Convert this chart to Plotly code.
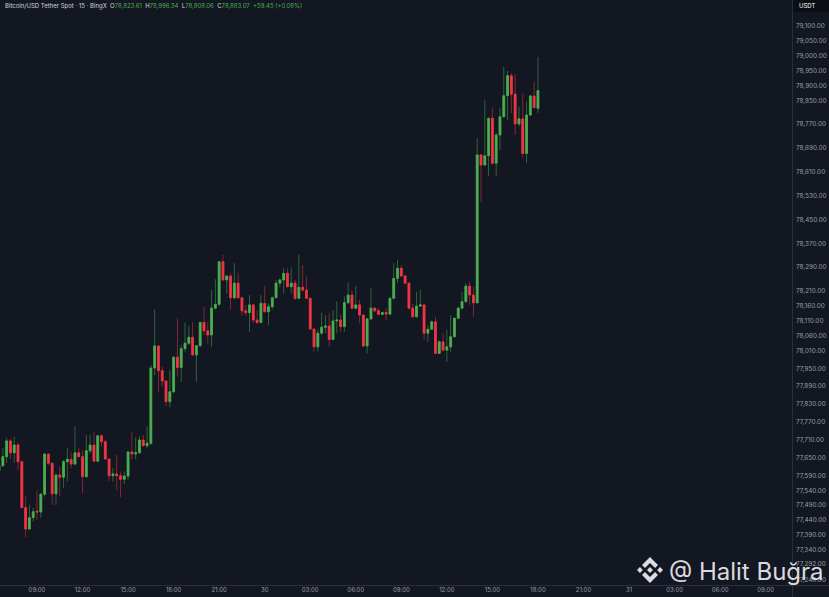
import numpy as np
import pandas as pd
import plotly.graph_objects as go

# ---------------------------------------------------------
# Data: BTC/USDT 15m candles
# ---------------------------------------------------------
start_time = "2026-01-29 06:30"

opens = [
    77606, 77623, 77653, 77706, 77666, 77692, 77636, 77482, 77410, 77448,
    77470, 77467, 77527, 77662, 77631, 77528, 77591, 77584, 77636, 77644,
    77628, 77666, 77653, 77586, 77673, 77692, 77638, 77723, 77703, 77645,
    77589, 77595, 77589, 77577, 77588, 77669, 77662, 77666, 77709, 77690,
    77698, 77951, 78025, 77942, 77907, 77838, 77871, 77987, 77953, 78016,
    78034, 78054, 77995, 78026, 78104, 78076, 78062, 78152, 78165, 78308,
    78247, 78260, 78187, 78236, 78187, 78143, 78137, 78163, 78112, 78104,
    78168, 78140, 78157, 78187, 78236, 78247, 78269, 78224, 78236, 78185,
    78222, 78213, 78185, 78082, 78022, 78068, 78088, 78092, 78047, 78109,
    78112, 78090, 78170, 78196, 78152, 78163, 78129, 78025, 78116, 78152,
    78143, 78131, 78137, 78132, 78185, 78252, 78286, 78260, 78236, 78152,
    78123, 78159, 78163, 78068, 78081, 78106, 78000, 78039, 78011, 78022,
    78056, 78118, 78152, 78174, 78226, 78196, 78170, 78667, 78633, 78664,
    78790, 78639, 78734, 78795, 78866, 78933, 78871, 78771, 78788, 78672,
    78801, 78865, 78823.61,
]
highs = [
    77632, 77682, 77716, 77712, 77719, 77699, 77638, 77519, 77491, 77481,
    77539, 77530, 77664, 77664, 77632, 77597, 77619, 77642, 77682, 77670,
    77754, 77682, 77675, 77726, 77726, 77735, 77726, 77729, 77709, 77648,
    77614, 77659, 77603, 77603, 77670, 77735, 77718, 77722, 77726, 77754,
    77961, 78148, 78027, 77955, 77911, 77944, 77989, 78118, 78028, 78103,
    78092, 78106, 78028, 78106, 78157, 78106, 78213, 78249, 78310, 78331,
    78263, 78269, 78303, 78271, 78189, 78163, 78196, 78168, 78146, 78196,
    78226, 78168, 78191, 78247, 78252, 78286, 78286, 78289, 78247, 78331,
    78297, 78258, 78187, 78084, 78079, 78137, 78129, 78135, 78146, 78174,
    78129, 78191, 78238, 78213, 78226, 78179, 78131, 78118, 78219, 78155,
    78152, 78140, 78152, 78191, 78303, 78314, 78297, 78263, 78238, 78168,
    78207, 78213, 78165, 78095, 78110, 78123, 78043, 78068, 78079, 78129,
    78120, 78157, 78207, 78236, 78241, 78224, 78723, 78669, 78851, 78792,
    78826, 78740, 78826, 78963, 78949, 78941, 78938, 78829, 78874, 78846,
    78868, 78913, 78996.34,
]
lows = [
    77601, 77618, 77632, 77645, 77632, 77608, 77479, 77382, 77407, 77435,
    77440, 77447, 77519, 77625, 77491, 77491, 77519, 77548, 77569, 77614,
    77625, 77651, 77531, 77581, 77664, 77636, 77636, 77687, 77644, 77571,
    77569, 77541, 77516, 77561, 77575, 77644, 77644, 77664, 77687, 77681,
    77692, 77927, 77871, 77888, 77823, 77819, 77866, 77922, 77905, 78006,
    78028, 77991, 77905, 78022, 78062, 78034, 78022, 78148, 78159, 78244,
    78202, 78146, 78182, 78185, 78126, 78126, 78073, 78101, 78099, 78101,
    78137, 78095, 78148, 78185, 78222, 78202, 78222, 78202, 78179, 78182,
    78207, 78183, 78079, 78006, 78006, 78062, 78068, 78022, 78045, 78068,
    78073, 78073, 78168, 78148, 78148, 78101, 78022, 78000, 78112, 78140,
    78129, 78129, 78112, 78129, 78182, 78236, 78258, 78233, 78148, 78121,
    78121, 78155, 78045, 78039, 78079, 77998, 77998, 78006, 77972, 78006,
    78054, 78115, 78148, 78170, 78163, 78123, 78168, 78508, 78631, 78597,
    78633, 78597, 78683, 78792, 78784, 78807, 78734, 78762, 78658, 78639,
    78798, 78824, 78808.06,
]
closes = [
    77623, 77653, 77706, 77666, 77692, 77636, 77482, 77410, 77448, 77468,
    77467, 77527, 77662, 77631, 77528, 77591, 77584, 77636, 77644, 77628,
    77666, 77653, 77586, 77673, 77692, 77638, 77723, 77703, 77645, 77589,
    77595, 77589, 77577, 77588, 77669, 77662, 77666, 77709, 77690, 77698,
    77951, 78025, 77942, 77907, 77838, 77871, 77987, 77953, 78016, 78034,
    78054, 77995, 78026, 78104, 78076, 78062, 78152, 78165, 78308, 78247,
    78260, 78187, 78236, 78187, 78143, 78137, 78163, 78112, 78104, 78168,
    78140, 78157, 78187, 78236, 78247, 78269, 78224, 78236, 78185, 78222,
    78213, 78185, 78082, 78022, 78068, 78088, 78092, 78047, 78109, 78112,
    78090, 78170, 78196, 78152, 78163, 78129, 78025, 78116, 78152, 78143,
    78131, 78137, 78132, 78185, 78252, 78286, 78260, 78236, 78152, 78123,
    78159, 78163, 78068, 78081, 78106, 78000, 78039, 78011, 78022, 78056,
    78118, 78152, 78174, 78226, 78196, 78170, 78667, 78633, 78664, 78790,
    78639, 78734, 78795, 78866, 78933, 78871, 78771, 78788, 78672, 78801,
    78865, 78826, 78883.07,
]

# price scale labels (TradingView picks these odd steps)
price_ticks = [
    79100, 79050, 79000, 78950, 78900, 78850, 78770, 78690, 78610, 78530,
    78450, 78370, 78290, 78210, 78160, 78110, 78060, 78010, 77950, 77890,
    77830, 77770, 77710, 77650, 77590, 77540, 77490, 77440, 77390, 77340,
    77292, 77240,
]
time_tick_labels = [
    "09:00", "12:00", "15:00", "18:00", "21:00", "30", "03:00", "06:00",
    "09:00", "12:00", "15:00", "18:00", "21:00", "31", "03:00", "06:00", "09:00",
]

# ---------------------------------------------------------
# Styling
# ---------------------------------------------------------
BG = "#131722"
UP = "#4caf50"
DOWN = "#f23645"
UP_WICK = "rgba(76,175,80,0.5)"
DOWN_WICK = "rgba(242,54,69,0.5)"
AXIS_TXT = "#9a9ea8"
SEP = "#2a2e39"
FONT = "Inter"

W, H = 829, 597
PLOT_W, PLOT_H = 792, 585


def px(x):
    return x / PLOT_W


def py(y):
    return 1 - y / PLOT_H


times = pd.date_range(start_time, periods=len(closes), freq="15min")
step = pd.Timedelta(minutes=15)
x_range = [times[0] + 0.25 * step, times[0] + 208.95 * step]
y_range = [77221.8, 79187.4]

o = np.array(opens, dtype=float)
c = np.array(closes, dtype=float)
body_hi = np.maximum(o, c)
body_lo = np.minimum(o, c)

fig = go.Figure()

# wicks (dimmer)
fig.add_trace(go.Candlestick(
    x=times, open=opens, high=highs, low=lows, close=closes,
    increasing=dict(line=dict(color=UP_WICK, width=1), fillcolor=UP_WICK),
    decreasing=dict(line=dict(color=DOWN_WICK, width=1), fillcolor=DOWN_WICK),
    hoverinfo="skip", showlegend=False,
))
# bodies
fig.add_trace(go.Candlestick(
    x=times, open=o, high=body_hi, low=body_lo, close=c,
    increasing=dict(line=dict(color=UP, width=0.6), fillcolor=UP),
    decreasing=dict(line=dict(color=DOWN, width=0.6), fillcolor=DOWN),
    hoverinfo="skip", showlegend=False,
))

# ---------------------------------------------------------
# Binance logo for the watermark (polygons in a 126.61 box)
# ---------------------------------------------------------
logo_polys = [
    [(38.73, 53.2), (63.3, 28.63), (87.89, 53.22), (102.19, 38.92), (63.3, 0), (24.42, 38.9)],
    [(38.73, 73.41), (63.3, 97.98), (87.89, 73.39), (102.19, 87.69), (63.3, 126.61), (24.42, 87.71)],
    [(0, 63.31), (14.3, 49.01), (28.6, 63.31), (14.3, 77.61)],
    [(98.01, 63.31), (112.31, 49.01), (126.61, 63.31), (112.31, 77.61)],
    [(77.83, 63.3), (63.3, 48.76), (48.77, 63.3), (63.3, 77.8)],
]
logo_x0, logo_y0, logo_s = 637, 557, 26 / 126.61
WM = "rgba(238,238,242,0.92)"

shapes = []
for poly in logo_polys:
    pts = [(px(logo_x0 + a * logo_s), py(logo_y0 + b * logo_s)) for a, b in poly]
    path = "M " + " L ".join(f"{a:.5f},{b:.5f}" for a, b in pts) + " Z"
    shapes.append(dict(type="path", xref="paper", yref="paper", path=path,
                       fillcolor=WM, line=dict(width=0)))

# pane separators + currency box
shapes += [
    dict(type="line", xref="paper", yref="paper", x0=px(792.5), x1=px(792.5),
         y0=py(0), y1=py(597), line=dict(color=SEP, width=1)),
    dict(type="line", xref="paper", yref="paper", x0=px(0), x1=px(829),
         y0=py(585.5), y1=py(585.5), line=dict(color=SEP, width=1)),
    dict(type="rect", xref="paper", yref="paper", x0=px(793), x1=px(829),
         y0=py(12), y1=py(0), fillcolor="#0c0e15", line=dict(width=0)),
]

g = UP
header = (
    "Bitcoin/USD Tether Spot · 15 · BingX  "
    f"O<span style='color:{g}'>78,823.61</span>  "
    f"H<span style='color:{g}'>78,996.34</span>  "
    f"L<span style='color:{g}'>78,808.06</span>  "
    f"C<span style='color:{g}'>78,883.07</span>  "
    f"<span style='color:{g}'>+59.45 (+0.08%)</span>"
)

annotations = [
    dict(text=header, xref="paper", yref="paper", x=px(3), y=py(6),
         xanchor="left", yanchor="middle", showarrow=False,
         font=dict(family=FONT, size=6, color="#d1d4dc")),
    dict(text="USDT", xref="paper", yref="paper", x=px(797), y=py(6),
         xanchor="left", yanchor="middle", showarrow=False,
         font=dict(family=FONT, size=6, color="#ffffff")),
    dict(text="@ Halit Buğra", xref="paper", yref="paper", x=px(667), y=py(571),
         xanchor="left", yanchor="middle", showarrow=False,
         font=dict(family=FONT, size=24, color=WM)),
]

fig.update_layout(
    width=W, height=H,
    margin=dict(l=0, r=W - PLOT_W, t=0, b=H - PLOT_H, pad=0),
    paper_bgcolor=BG, plot_bgcolor=BG,
    font=dict(family=FONT, size=6, color=AXIS_TXT),
    showlegend=False,
    shapes=shapes,
    annotations=annotations,
    xaxis=dict(
        range=x_range, rangeslider=dict(visible=False),
        tickvals=pd.date_range("2026-01-29 09:00", periods=len(time_tick_labels), freq="3h"),
        ticktext=time_tick_labels,
        showgrid=False, zeroline=False, showline=False, ticks="",
        tickfont=dict(family=FONT, size=6, color=AXIS_TXT),
    ),
    yaxis=dict(
        side="right", range=y_range,
        tickvals=price_ticks,
        ticktext=[f"{v:,.2f}" for v in price_ticks],
        showgrid=False, zeroline=False, showline=False, ticks="",
        ticklabelstandoff=3,
        tickfont=dict(family=FONT, size=6.4, color=AXIS_TXT),
    ),
)

# page body has an 8px default margin; drop it so the figure fills the window
fig.write_html(
    "out.html",
    config={"displayModeBar": False},
    post_script="document.body.style.margin='0';document.body.style.background='#131722';",
)
